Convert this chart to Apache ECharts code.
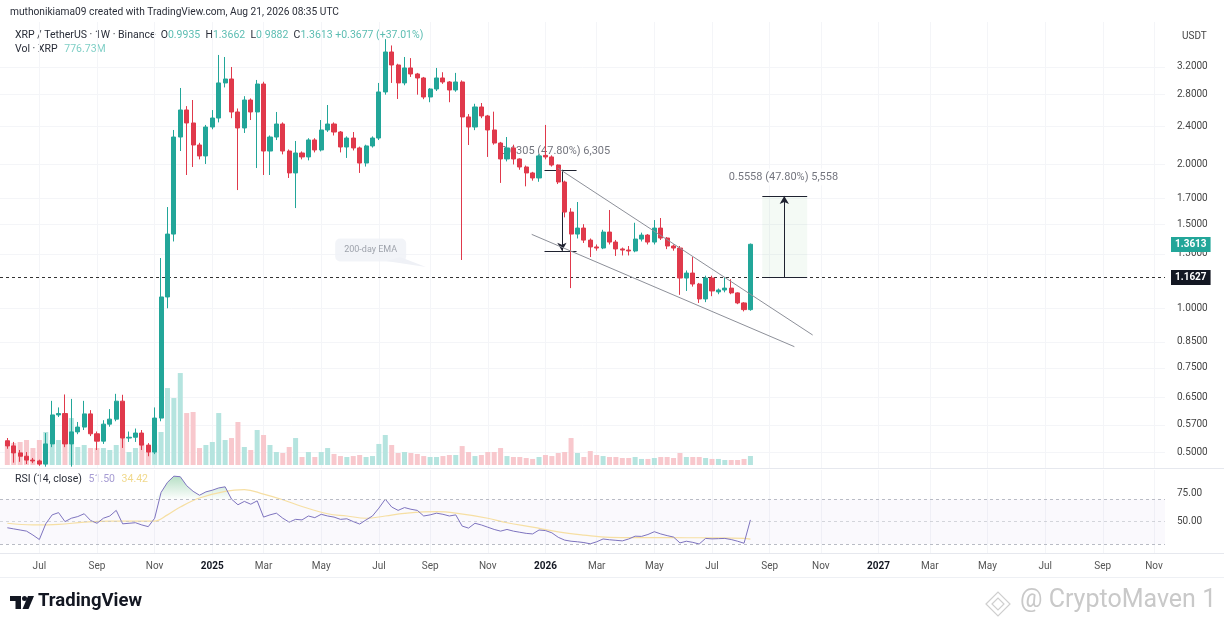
<!DOCTYPE html>
<html>
<head>
<meta charset="utf-8">
<title>XRP / TetherUS 1W</title>
<script src="https://cdn.jsdelivr.net/npm/echarts@6/dist/echarts.min.js"></script>
<style>
  html, body { margin: 0; padding: 0; background: #fff; }
  #chart { width: 1224px; height: 628px; }
</style>
</head>
<body>
<div id="chart"></div>
<script>
// weekly candles, first bar = week of 2024-05-27
var firstWeek = '2024-05-27';
var open = [0.528,0.515,0.498,0.490,0.481,0.479,0.472,0.520,0.598,0.602,
  0.520,0.551,0.564,0.601,0.546,0.527,0.572,0.586,0.639,0.535,
  0.537,0.548,0.517,0.500,0.589,1.056,1.430,2.283,2.601,2.443,
  2.197,2.084,2.396,2.502,2.963,3.020,2.576,2.385,2.729,2.576,
  2.948,2.134,2.283,2.431,2.134,1.920,2.114,2.074,2.251,2.145,
  2.362,2.431,2.339,2.176,2.272,2.166,2.014,2.187,2.272,2.837,
  3.440,3.231,2.963,3.185,3.094,3.035,2.769,2.878,3.035,2.977,
  2.864,2.977,2.515,2.396,2.639,2.527,2.362,2.218,2.054,2.166,
  2.054,1.976,1.920,1.874,2.090,2.074,1.995,1.838,1.590,1.430,
  1.472,1.389,1.344,1.337,1.444,1.376,1.331,1.324,1.318,1.396,
  1.423,1.376,1.472,1.403,1.350,1.337,1.157,1.185,1.124,1.046,
  1.157,1.082,1.092,1.102,1.077,1.026,0.9935];
var close = [0.515,0.498,0.490,0.481,0.479,0.472,0.520,0.598,0.602,0.520,
  0.551,0.564,0.601,0.546,0.527,0.572,0.586,0.639,0.535,0.537,
  0.548,0.517,0.500,0.589,1.056,1.430,2.283,2.601,2.443,2.197,
  2.084,2.396,2.502,2.963,3.020,2.576,2.385,2.729,2.576,2.948,
  2.134,2.283,2.431,2.134,1.920,2.114,2.074,2.251,2.145,2.362,
  2.431,2.339,2.176,2.272,2.166,2.014,2.187,2.272,2.837,3.440,
  3.231,2.963,3.185,3.094,3.035,2.769,2.878,3.035,2.977,2.864,
  2.977,2.515,2.396,2.639,2.527,2.362,2.218,2.054,2.166,2.054,
  1.976,1.920,1.874,2.084,2.074,1.995,1.838,1.590,1.430,1.472,
  1.389,1.344,1.337,1.444,1.376,1.331,1.324,1.318,1.396,1.423,
  1.376,1.472,1.403,1.350,1.337,1.157,1.185,1.124,1.046,1.157,
  1.087,1.092,1.102,1.077,1.026,0.9935,1.3613];
var high = [0.535,0.525,0.505,0.500,0.486,0.482,0.548,0.640,0.620,0.660,
  0.646,0.578,0.640,0.612,0.552,0.583,0.615,0.662,0.659,0.552,
  0.560,0.556,0.522,0.620,1.274,1.629,2.362,2.892,2.650,2.729,
  2.220,2.420,2.600,3.391,3.358,3.200,2.620,2.780,2.750,3.006,
  2.980,2.300,2.576,2.450,2.150,2.240,2.130,2.270,2.270,2.478,
  2.664,2.450,2.350,2.290,2.339,2.180,2.200,2.290,2.963,3.660,
  3.550,3.250,3.358,3.340,3.110,3.050,2.890,3.185,3.120,2.990,
  3.110,3.000,2.550,2.680,2.690,2.540,2.580,2.230,2.283,2.200,
  2.060,1.990,1.930,2.100,2.420,2.090,2.000,1.850,1.620,1.669,
  1.500,1.400,1.360,1.460,1.606,1.390,1.340,1.350,1.510,1.440,
  1.430,1.530,1.545,1.410,1.360,1.350,1.200,1.280,1.130,1.170,
  1.170,1.100,1.160,1.150,1.080,1.030,1.3662];
var low = [0.508,0.475,0.477,0.472,0.474,0.468,0.466,0.512,0.592,0.512,
  0.466,0.545,0.556,0.540,0.505,0.520,0.565,0.580,0.510,0.525,
  0.525,0.505,0.490,0.495,0.580,1.000,1.380,2.134,1.901,1.976,
  2.050,2.005,2.370,2.450,2.900,2.500,1.768,2.328,2.478,1.966,
  1.901,1.901,2.250,2.100,1.874,1.621,2.050,2.040,2.120,2.130,
  2.340,2.300,2.120,2.064,2.140,1.920,1.980,2.170,2.250,2.800,
  2.963,2.743,2.930,3.050,2.800,2.740,2.700,2.850,2.950,2.700,
  2.840,1.262,2.197,2.360,2.500,2.074,2.200,1.830,2.030,2.000,
  1.950,1.800,1.850,1.840,2.050,1.980,1.820,1.550,1.102,1.400,
  1.370,1.280,1.320,1.330,1.360,1.287,1.290,1.290,1.310,1.380,
  1.360,1.360,1.390,1.330,1.320,1.067,1.087,1.110,1.026,1.030,
  1.060,1.070,1.080,1.070,1.020,0.985,0.9882];
// volume in millions of XRP
var volume = [1980,1890,1980,2150,1460,2150,2840,2150,2150,2410,
  4040,1550,1720,1460,1460,1460,1290,1720,2320,1120,
  1460,1890,1120,1720,2840,6620,5760,7910,4470,4560,
  1460,1720,1980,4470,2150,2320,3700,1550,1290,3010,
  2580,1720,1120,1030,1550,2320,690,1120,690,1120,
  1460,950,770,690,770,860,690,770,1810,2580,
  1720,1030,1120,1030,950,770,690,690,770,860,
  860,1630,1120,770,860,1120,1120,1460,770,690,
  690,600,520,690,860,770,1030,1120,2320,1030,
  690,1200,860,770,690,690,600,600,690,520,
  520,600,690,690,600,1030,690,690,690,600,
  520,520,430,430,430,520,776.73];
var rsi = [44.5,43.5,42.5,41.5,38,34,48,56,58,50,
  53,54.5,57,51,48.5,53,55,60,48,48.5,
  49,47,45.5,53,76,85,90.5,90,82,77,
  73.5,76.5,78,80,81,70,65,68,65.5,68.5,
  54,56,57.5,53,49.5,52,51.5,55,53.5,56.5,
  55,54,52,52.5,50,47.8,51.5,55,62,70,
  63,60,62.5,61,60,55,56,57.5,56.5,55,
  56,46,44.2,48.5,47,45,43,41.5,43,41.5,
  40.5,39.5,39,42.5,42,40,36,33.5,32.5,32,
  31.3,30.2,32,34.5,33.8,33.3,32.8,34.5,37,36.8,
  38.5,41,39,37.5,36.2,31,32.5,31.5,30,35,
  34.6,34.8,35,34,32.5,30.7,51.5];
// RSI-based MA read at a few bars (bar index, value)
var rsiMaBars = [0,4,8,12,16,20,23,25,27,30,34,37,40,43,46,50,53,56,59,62,67,70,75,78,82,86,90,94,100,106,110,115,116];
var rsiMaValues = [48.5,47,47.5,49.5,50.5,50.5,50.5,56,63,71,77,78.5,74.5,69.5,63.5,57,55,53,55,57.3,58.8,57.5,53,49,45,40.8,38,36,35.7,35.6,35.5,35,34.42];

var priceTicks = [0.5,0.57,0.65,0.75,0.85,1.0,1.3,1.5,1.7,2.0,2.4,2.8,3.2];
var rsiTicks = [50,75];
var monthTicks = ['2024-07-01','2024-09-02','2024-11-04','2025-01-06','2025-03-03','2025-05-05',
  '2025-07-07','2025-09-01','2025-11-03','2026-01-05','2026-03-02','2026-05-04','2026-07-06',
  '2026-09-07','2026-11-02','2027-01-04','2027-03-01','2027-05-03','2027-07-05','2027-09-06','2027-11-01'];
var monthNames = ['Jan','Feb','Mar','Apr','May','Jun','Jul','Aug','Sep','Oct','Nov','Dec'];

// drawings (in date / price)
var hLinePrice = 1.1627;
var upperWedge = [['2026-01-19', 1.963], ['2026-10-24', 0.879]];
var lowerWedge = [['2025-12-21', 1.428], ['2026-10-04', 0.831]];
var measure1 = {from: '2026-01-04', to: '2026-02-08', at: '2026-01-23', low: 1.319, high: 1.9495};
var measure2 = {from: '2026-08-30', to: '2026-10-18', at: '2026-09-23', low: 1.1627, high: 1.7185};
var note1 = ['2026-01-16', 2.134, '0.6305 (47.80%) 6,305'];
var note2 = ['2026-09-22', 1.883, '0.5558 (47.80%) 5,558'];
var emaNote = ['2025-06-28', 1.324, '200-day EMA'];

var UP = '#22a699', DOWN = '#e0394b', VOL_UP = '#b5e4df', VOL_DOWN = '#f8c8cd';
var FONT = 'Roboto, "Noto Sans", sans-serif';

function ts(s) { var p = s.split('-'); return new Date(+p[0], +p[1] - 1, +p[2]).getTime(); }
var startT = ts(firstWeek);
var weeks = open.map(function (_, i) { var d = new Date(startT); d.setDate(d.getDate() + 7 * i); return d.getTime(); });
var tickTimes = monthTicks.map(ts);
var xMin = ts('2024-05-19'), xMax = ts('2027-11-13');

var candles = weeks.map(function (w, i) { return [w, open[i], close[i], low[i], high[i]]; });
var volData = weeks.map(function (w, i) {
  return {value: [w, volume[i]], itemStyle: {color: close[i] >= open[i] ? VOL_UP : VOL_DOWN}};
});
var rsiData = weeks.map(function (w, i) { return [w, rsi[i]]; });
var rsiHot = weeks.map(function (w, i) { return [w, Math.max(rsi[i], 70)]; });
var rsiMa = rsiMaBars.map(function (b, k) { return [weeks[b], rsiMaValues[k]]; });
function pts(arr) { return arr.map(function (p) { return [ts(p[0]), p[1]]; }); }

// x axes are plain value axes holding timestamps, so custom tick positions can be used
function dateAxis(grid, labels) {
  return {
    type: 'value', gridIndex: grid, min: xMin, max: xMax, scale: true,
    axisLine: {show: false},
    axisTick: {show: false, customValues: tickTimes},
    axisLabel: labels ? {
      show: true, customValues: tickTimes, hideOverlap: false, color: '#555', fontSize: 10, margin: 8,
      fontFamily: FONT,
      formatter: function (v) {
        var d = new Date(v);
        return d.getMonth() === 0 ? '{yr|' + d.getFullYear() + '}' : monthNames[d.getMonth()];
      },
      rich: {yr: {fontWeight: 'bold', color: '#131722', fontSize: 10, fontFamily: FONT}}
    } : {show: false},
    splitLine: {show: grid !== 1, lineStyle: {color: '#f4f5f8', width: 1}}
  };
}

function mLine(a, b, pa, pb, arrowEnd) {
  return [{coord: [ts(a), pa], symbol: 'none'}, {coord: [ts(b), pb], symbol: arrowEnd ? 'arrow' : 'none', symbolSize: [7, 8]}];
}

var chart = echarts.init(document.getElementById('chart'));

var option = {
  animation: false,
  backgroundColor: '#ffffff',
  textStyle: {fontFamily: FONT},
  grid: [
    {left: 0, right: 59, top: 22, bottom: 160},
    {left: 0, right: 59, top: 372, bottom: 163},
    {left: 0, right: 59, top: 470, bottom: 75}
  ],
  xAxis: [dateAxis(0, false), dateAxis(1, false), dateAxis(2, true)],
  yAxis: [
    {
      type: 'log', logBase: 10, gridIndex: 0, position: 'right', min: 0.463, max: 3.975,
      axisLine: {show: false},
      axisTick: {show: false, customValues: priceTicks},
      axisLabel: {customValues: priceTicks, color: '#444', fontSize: 10, margin: 12, fontFamily: FONT,
        formatter: function (v) { return Number(v).toFixed(4); }},
      splitLine: {show: true, lineStyle: {color: '#f4f5f8'}}
    },
    {type: 'value', gridIndex: 1, min: 0, max: 8000, show: false},
    {
      type: 'value', gridIndex: 2, position: 'right', min: 22, max: 96,
      axisLine: {show: false}, axisTick: {show: false},
      axisLabel: {customValues: rsiTicks, color: '#444', fontSize: 10, margin: 12, fontFamily: FONT,
        formatter: function (v) { return Number(v).toFixed(2); }},
      splitLine: {show: false}
    }
  ],
  series: [
    {
      name: 'Vol', type: 'bar', xAxisIndex: 1, yAxisIndex: 1, barWidth: 5, z: 1,
      data: volData, silent: true
    },
    {
      name: 'notesUnder', type: 'scatter', xAxisIndex: 0, yAxisIndex: 0, z: 2, symbolSize: 1,
      itemStyle: {color: 'rgba(0,0,0,0)'}, silent: true,
      data: [{value: [ts(note1[0]), note1[1]], name: note1[2]}],
      label: {show: true, position: 'inside', formatter: '{b}', color: '#50535e', fontSize: 11,
        backgroundColor: 'rgba(255,255,255,0.9)', padding: [3, 5], borderRadius: 3}
    },
    {
      name: 'XRP', type: 'candlestick', xAxisIndex: 0, yAxisIndex: 0, z: 5, barWidth: 4.6,
      dimensions: ['date', 'open', 'close', 'lowest', 'highest'],
      encode: {x: 'date', y: ['open', 'close', 'lowest', 'highest']},
      data: candles,
      itemStyle: {color: UP, color0: DOWN, borderColor: UP, borderColor0: DOWN, borderWidth: 1},
      markLine: {
        silent: true, symbol: ['none', 'none'], animation: false,
        data: [
          {yAxis: hLinePrice, lineStyle: {color: '#333', width: 1, type: [3, 3]},
            label: {show: true, position: 'end', formatter: hLinePrice.toFixed(4), color: '#fff', fontWeight: 'bold',
              fontSize: 10, backgroundColor: '#131722', padding: [3, 4, 2, 4], distance: 6}},
          {yAxis: close[close.length - 1], lineStyle: {color: 'rgba(0,0,0,0)', width: 1},
            label: {show: true, position: 'end', formatter: close[close.length - 1].toFixed(4), color: '#fff', fontWeight: 'bold',
              fontSize: 10, backgroundColor: UP, padding: [3, 4, 2, 4], distance: 6}}
        ]
      }
    },
    {
      name: 'upperWedge', type: 'line', xAxisIndex: 0, yAxisIndex: 0, z: 6, silent: true,
      data: pts(upperWedge), symbol: 'none', lineStyle: {color: '#8d9099', width: 1},
      markLine: {
        silent: true, symbol: ['none', 'none'], label: {show: false},
        lineStyle: {color: '#1f2230', width: 1, type: 'solid'},
        data: [
          mLine(measure1.from, measure1.to, measure1.high, measure1.high),
          mLine(measure1.from, measure1.to, measure1.low, measure1.low),
          mLine(measure1.at, measure1.at, measure1.high, measure1.low, true),
          mLine(measure2.from, measure2.to, measure2.high, measure2.high),
          mLine(measure2.from, measure2.to, measure2.low, measure2.low),
          mLine(measure2.at, measure2.at, measure2.low, measure2.high, true)
        ]
      },
      markArea: {
        silent: true,
        itemStyle: {color: 'rgba(76,175,80,0.06)'},
        data: [
          [{coord: [ts(measure2.from), measure2.low]}, {coord: [ts(measure2.to), measure2.high]}]
        ]
      }
    },
    {
      name: 'lowerWedge', type: 'line', xAxisIndex: 0, yAxisIndex: 0, z: 6, silent: true,
      data: pts(lowerWedge), symbol: 'none', lineStyle: {color: '#8d9099', width: 1}
    },
    {
      name: 'notesOver', type: 'scatter', xAxisIndex: 0, yAxisIndex: 0, z: 7, symbolSize: 1,
      itemStyle: {color: 'rgba(0,0,0,0)'}, silent: true,
      data: [
        {value: [ts(note2[0]), note2[1]], name: note2[2],
          label: {color: '#50535e', fontSize: 11, backgroundColor: 'rgba(255,255,255,0.9)', padding: [3, 5]}},
        {value: [ts(emaNote[0]), emaNote[1]], name: emaNote[2],
          label: {color: '#8a8e99', fontSize: 9, backgroundColor: '#eff1f6', padding: [7, 9], borderRadius: 5}}
      ],
      label: {show: true, position: 'inside', formatter: '{b}'}
    },
    {
      name: 'RSI hot', type: 'line', xAxisIndex: 2, yAxisIndex: 2, z: 2, silent: true,
      data: rsiHot, symbol: 'none', lineStyle: {width: 0},
      areaStyle: {
        origin: 70,
        color: new echarts.graphic.LinearGradient(0, 470, 0, 500, [
          {offset: 0, color: 'rgba(56,168,96,0.65)'},
          {offset: 1, color: 'rgba(56,168,96,0)'}
        ], true)
      }
    },
    {
      name: 'RSI MA', type: 'line', xAxisIndex: 2, yAxisIndex: 2, z: 3, silent: true,
      data: rsiMa, smooth: 0.4, symbol: 'none', lineStyle: {color: '#f6dfa3', width: 1.2}
    },
    {
      name: 'RSI', type: 'line', xAxisIndex: 2, yAxisIndex: 2, z: 4, silent: true,
      data: rsiData, symbol: 'none', lineStyle: {color: '#7e74bf', width: 1},
      markArea: {silent: true, itemStyle: {color: 'rgba(126,87,194,0.035)'}, data: [[{yAxis: 30}, {yAxis: 70}]]},
      markLine: {
        silent: true, symbol: ['none', 'none'], label: {show: false},
        lineStyle: {color: '#b9bcc5', width: 1, type: [3, 3]},
        data: [{yAxis: 70}, {yAxis: 50, lineStyle: {opacity: 0.6}}, {yAxis: 30}]
      }
    }
  ],
  graphic: [
    {type: 'line', silent: true, shape: {x1: 0, y1: 468.5, x2: 1224, y2: 468.5}, style: {stroke: '#e6e8ee', lineWidth: 1}},
    {type: 'line', silent: true, shape: {x1: 0, y1: 553.5, x2: 1224, y2: 553.5}, style: {stroke: '#e6e8ee', lineWidth: 1}},
    {type: 'line', silent: true, shape: {x1: 0, y1: 577.5, x2: 1224, y2: 577.5}, style: {stroke: '#eef0f4', lineWidth: 1}},
    // pointer of the "200-day EMA" callout
    {type: 'polygon', silent: true, z: 1, shape: {points: [[386, 261], [426, 267], [400, 257]]}, style: {fill: '#eff1f6'}},
    {type: 'text', left: 10, top: 7, silent: true,
      style: {text: 'muthonikiama09 created with TradingView.com, Aug 21, 2026 08:35 UTC', fill: '#2a2e39', font: '10.2px ' + FONT}},
    {type: 'text', left: 15, top: 30, silent: true,
      style: {
        text: '{k|XRP / TetherUS · 1W · Binance}  {k|O}{v|' + open[116].toFixed(4) + '}  {k|H}{v|' + high[116].toFixed(4) +
          '}  {k|L}{v|' + low[116].toFixed(4) + '}  {k|C}{v|' + close[116].toFixed(4) + '} {v|+0.3677 (+37.01%)}',
        font: '10.5px ' + FONT,
        rich: {k: {fill: '#2a2e39', font: '10.5px ' + FONT}, v: {fill: '#5cbdb2', font: '10.5px ' + FONT}}
      }},
    {type: 'text', left: 15, top: 43, silent: true,
      style: {text: '{k|Vol · XRP}  {v|776.73M}', rich: {k: {fill: '#2a2e39', font: '10.5px ' + FONT}, v: {fill: '#7fcfc6', font: '10.5px ' + FONT}}}},
    {type: 'text', left: 1182, top: 31, silent: true, style: {text: 'USDT', fill: '#444', font: '10px ' + FONT}},
    {type: 'text', left: 15, top: 473, silent: true,
      style: {text: '{k|RSI (14, close)}  {v|51.50}  {m|34.42}',
        rich: {k: {fill: '#2a2e39', font: '10.5px ' + FONT}, v: {fill: '#a69cd3', font: '10.5px ' + FONT}, m: {fill: '#f1d98c', font: '10.5px ' + FONT}}}},
    // TradingView logo
    {type: 'polygon', silent: true, shape: {points: [[10, 596], [21, 596], [21, 609], [15.5, 609], [15.5, 601], [10, 601]]}, style: {fill: '#131722'}},
    {type: 'circle', silent: true, shape: {cx: 24.5, cy: 598.6, r: 2.5}, style: {fill: '#131722'}},
    {type: 'polygon', silent: true, shape: {points: [[28, 596], [34, 596], [28.5, 609], [22.5, 609]]}, style: {fill: '#131722'}},
    {type: 'text', left: 38, top: 592, silent: true, style: {text: 'TradingView', fill: '#131722', font: 'bold 18.5px ' + FONT}},
    // watermark
    {type: 'polygon', silent: true, shape: {points: [[986, 604], [998, 592], [1010, 604], [998, 616]]}, style: {fill: 'none', stroke: '#cfcfcf', lineWidth: 1.2}},
    {type: 'polygon', silent: true, shape: {points: [[992, 604], [998, 598], [1004, 604], [998, 610]]}, style: {fill: 'none', stroke: '#cfcfcf', lineWidth: 1.2}},
    {type: 'text', left: 1020, top: 588, silent: true, style: {text: '@ CryptoMaven 1', fill: '#c9c9c9', font: '25px ' + FONT}}
  ]
};

chart.setOption(option);
</script>
</body>
</html>
